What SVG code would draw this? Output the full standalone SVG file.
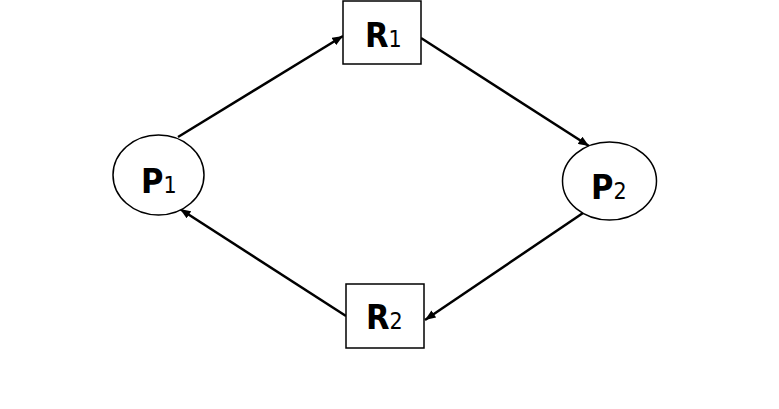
<svg xmlns="http://www.w3.org/2000/svg" width="779" height="409" viewBox="0 0 779 409">
<style>
.node{fill:#fff;stroke:#000;stroke-width:1.5}
.lbl{font-family:"DejaVu Sans Condensed","DejaVu Sans",sans-serif;font-weight:bold;font-size:34px;fill:#000}
.sub{font-weight:normal;font-size:23px}
.edge{stroke:#000;stroke-width:2.5;fill:none;marker-end:url(#ah)}
</style>
<defs>
<marker id="ah" viewBox="0 0 10 8" refX="10" refY="4" markerWidth="4.4" markerHeight="3.4" orient="auto" markerUnits="strokeWidth">
<path d="M0,0 L10,4 L0,8 z" fill="#000"/>
</marker>
</defs>
<rect width="779" height="409" fill="#fff"/>
<g id="connectors">
<line class="edge" x1="178" y1="137" x2="343" y2="36"/>
<line class="edge" x1="421" y1="38" x2="589" y2="146"/>
<line class="edge" x1="583" y1="213" x2="425" y2="320"/>
<line class="edge" x1="346" y1="316" x2="180" y2="209"/>
</g>
<g id="R1">
<rect class="node" x="343" y="1" width="78" height="63"/>
<text class="lbl" x="365" y="47">R<tspan class="sub">1</tspan></text>
</g>
<g id="P1">
<ellipse class="node" cx="158.5" cy="175" rx="45.5" ry="40"/>
<text class="lbl" x="141" y="193">P<tspan class="sub">1</tspan></text>
</g>
<g id="P2">
<ellipse class="node" cx="609.5" cy="181" rx="47" ry="39"/>
<text class="lbl" x="591" y="199">P<tspan class="sub">2</tspan></text>
</g>
<g id="R2">
<rect class="node" x="346" y="284" width="78" height="64"/>
<text class="lbl" x="366" y="329">R<tspan class="sub">2</tspan></text>
</g>
</svg>
